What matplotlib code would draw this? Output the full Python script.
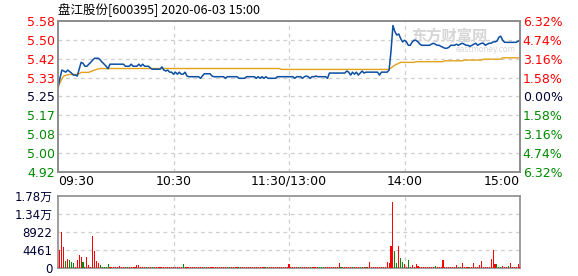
import matplotlib
matplotlib.use("Agg")
import matplotlib.pyplot as plt
import numpy as np

plt.rcParams['font.family'] = ['DejaVu Sans', 'Noto Sans CJK SC']

title = "盘江股份[600395] 2020-06-03 15:00"
prev_close = 5.25
pct_ticks = [6.32, 4.74, 3.16, 1.58, 0.00, -1.58, -3.16, -4.74, -6.32]
time_labels = ["09:30", "10:30", "11:30/13:00", "14:00", "15:00"]
time_ticks = [0, 60, 120, 180, 240]
vol_ticks = [0, 4461, 8922, 13383, 17844]
vol_labels = ["0", "4461", "8922", "1.34万", "1.78万"]

price = [
    5.290, 5.330, 5.366, 5.362, 5.357, 5.366, 5.360, 5.353, 5.344, 5.344,
    5.340, 5.370, 5.400, 5.396, 5.383, 5.383, 5.392, 5.400, 5.410, 5.418,
    5.418, 5.418, 5.410, 5.400, 5.392, 5.383, 5.372, 5.392, 5.392, 5.392,
    5.392, 5.392, 5.392, 5.392, 5.392, 5.383, 5.383, 5.383, 5.392, 5.383,
    5.383, 5.383, 5.392, 5.383, 5.392, 5.383, 5.383, 5.383, 5.375, 5.370,
    5.370, 5.370, 5.370, 5.370, 5.380, 5.366, 5.362, 5.366, 5.357, 5.357,
    5.348, 5.357, 5.348, 5.357, 5.348, 5.348, 5.357, 5.340, 5.337, 5.337,
    5.337, 5.337, 5.337, 5.337, 5.330, 5.340, 5.350, 5.350, 5.350, 5.350,
    5.340, 5.337, 5.337, 5.337, 5.337, 5.337, 5.337, 5.330, 5.337, 5.337,
    5.337, 5.337, 5.337, 5.337, 5.330, 5.330, 5.330, 5.330, 5.337, 5.337,
    5.337, 5.337, 5.337, 5.330, 5.337, 5.330, 5.337, 5.330, 5.337, 5.330,
    5.330, 5.330, 5.330, 5.330, 5.337, 5.337, 5.337, 5.337, 5.337, 5.337,
    5.337, 5.337, 5.337, 5.330, 5.337, 5.337, 5.337, 5.330, 5.337, 5.340,
    5.337, 5.330, 5.337, 5.337, 5.340, 5.337, 5.337, 5.337, 5.337, 5.337,
    5.330, 5.353, 5.353, 5.353, 5.353, 5.353, 5.353, 5.353, 5.353, 5.353,
    5.362, 5.357, 5.344, 5.357, 5.348, 5.357, 5.344, 5.353, 5.362, 5.353,
    5.357, 5.357, 5.357, 5.357, 5.357, 5.357, 5.357, 5.344, 5.357, 5.357,
    5.357, 5.357, 5.366, 5.450, 5.562, 5.535, 5.520, 5.525, 5.505, 5.490,
    5.497, 5.490, 5.475, 5.475, 5.490, 5.497, 5.497, 5.490, 5.480, 5.475,
    5.475, 5.475, 5.475, 5.475, 5.480, 5.484, 5.480, 5.475, 5.475, 5.470,
    5.466, 5.462, 5.462, 5.466, 5.475, 5.475, 5.475, 5.480, 5.475, 5.480,
    5.484, 5.480, 5.475, 5.475, 5.470, 5.475, 5.480, 5.484, 5.475, 5.480,
    5.484, 5.484, 5.475, 5.480, 5.484, 5.484, 5.490, 5.490, 5.493, 5.510,
    5.515, 5.497, 5.488, 5.488, 5.488, 5.488, 5.488, 5.488, 5.488, 5.493,
    5.497,
]

avg_price = ([5.290, 5.310, 5.327, 5.340, 5.343, 5.345] + [5.347] * 5 + [5.350]
             + [5.356] * 5 + [5.360, 5.363, 5.366, 5.369, 5.371]
             + [5.373] * 94 + [5.369] * 56
             + [5.370, 5.375, 5.382, 5.388, 5.392, 5.396]
             + [5.400] * 8 + [5.403] * 15 + [5.407] * 10 + [5.410] * 10
             + [5.414] * 10 + [5.420] * 10)

volume = ([0, 4420, 9000, 5300, 1770, 2250, 1930, 1450, 1130, 240,
           1930, 3130, 2650, 1450, 240, 2650, 720, 240, 7950, 4100,
           1690, 1200, 720, 240, 240, 240, 960, 240, 240, 240,
           240, 240, 480] + [240] * 8 + [720, 720] + [240] * 22 + [960]
          + [240] * 54 + [960] + [240] * 25 + [1200] + [240] * 15 + [1450]
          + [240] * 8
          + [1450, 1130, 5540, 16400, 4100, 1200, 5540, 2400, 1530, 960,
             240, 1930, 240, 720, 240, 960, 480]
          + [240] * 8 + [480, 240, 240, 240, 1930] + [240] * 6 + [720, 240, 240,
             1200] + [240] * 5 + [1200, 240, 240, 720, 1690, 240, 240, 240, 240,
             2170, 4580, 960, 960, 240, 240, 480, 240, 240, 480, 1200, 240,
             240, 240, 960, 240])

direction = ("rrrrgrgggr" "rrrgrrrrrr" "rrgggggrrr" "rrrrrrgrrr" "rrrrrrgrrg"
             "rrrrrrrrrr" "rrrrrgrrrr" "rrrrrrgrrr" "rrrrrrrrrg" "rrrrgrrrrr"
             "rrrrrrrrgg" "rrrrrrrrrr" "rrrrrgrrrr" "rgrrrrgggr" "rrrrrrrgrr"
             "rrrgrrrgrr" "grrrrrrrrr" "rrrrrggrgg" "rrgrrrrrrr" "rrrrrrgrrr"
             "rrrrrrrrgr" "rrrrgrrrrr" "rrrrrrrrgg" "grrrgrrrrr" "r")

n = len(price)
assert len(avg_price) == n and len(volume) == n and len(direction) == n
minutes = np.arange(n)

W, H = 578, 276
fig = plt.figure(figsize=(W / 100, H / 100), dpi=100)

frame_c = "#8c8c8c"
grid_c = "#cfcfcf"
red = "#ff0000"
green = "#008a00"
dark = "#000033"

ax = fig.add_axes([58 / W, (H - 172) / H, 462 / W, 151 / H])
axv = fig.add_axes([58 / W, (H - 268) / H, 462 / W, 72 / H])

lo = prev_close * (1 - 0.0632)
hi = prev_close * (1 + 0.0632)
price_ticks = [prev_close * (1 + p / 100) for p in pct_ticks]

ax.set_xlim(0, 240)
ax.set_ylim(lo, hi)
for t in price_ticks[1:-1]:
    ax.axhline(t, color=grid_c, lw=0.9, ls=(0, (3, 3)), zorder=1)
for t in time_ticks[1:-1]:
    ax.axvline(t, color=grid_c, lw=0.9, ls=(0, (3, 3)), zorder=1)

ax.text(0.93, 0.90, "东方财富网", transform=ax.transAxes, ha="right", va="center",
        fontsize=11, fontweight="bold", color="#d6d6d6",
        family=["Noto Sans CJK SC", "DejaVu Sans"], zorder=2)
ax.text(0.99, 0.81, "eastmoney.com", transform=ax.transAxes, ha="right", va="center",
        fontsize=5.5, color="#d6d6d6", zorder=2)

ax.plot(minutes, avg_price, color="#e3a21a", lw=1.0, zorder=3)
ax.plot(minutes, price, color="#0b4ea2", lw=1.1, zorder=4)

ax.set_yticks(price_ticks)
ax.set_yticklabels([f"{v:.2f}" for v in price_ticks], fontsize=9)
for lab, p in zip(ax.get_yticklabels(), pct_ticks):
    lab.set_color(red if p > 0 else (dark if p == 0 else green))
ax.set_xticks(time_ticks)
ax.set_xticklabels(time_labels, fontsize=9)
xl = ax.get_xticklabels()
xl[0].set_ha("left")
xl[-1].set_ha("right")
ax.tick_params(axis="both", length=0, pad=2)

axr = ax.twinx()
axr.set_ylim(lo, hi)
axr.set_yticks(price_ticks)
axr.set_yticklabels([f"{abs(p):.2f}%" for p in pct_ticks], fontsize=9)
for lab, p in zip(axr.get_yticklabels(), pct_ticks):
    lab.set_color(red if p > 0 else (dark if p == 0 else green))
axr.tick_params(axis="y", length=0, pad=2)

for a in (ax, axr, axv):
    for s in a.spines.values():
        s.set_color(frame_c)
        s.set_linewidth(1.2)

colors = [red if d == "r" else green for d in direction]
axv.bar(minutes, volume, width=0.55, color=colors, zorder=3, antialiased=False)
axv.set_xlim(0, 240)
axv.set_ylim(0, vol_ticks[-1])
for t in vol_ticks[1:-1]:
    axv.axhline(t, color=grid_c, lw=0.9, ls=(0, (3, 3)), zorder=1)
for t in time_ticks[1:-1]:
    axv.axvline(t, color=grid_c, lw=0.9, ls=(0, (3, 3)), zorder=1)
axv.set_xticks([])
axv.set_yticks(vol_ticks)
axv.set_yticklabels(vol_labels, fontsize=8.5, color=dark,
                    family=["DejaVu Sans", "Noto Sans CJK SC"])
axv.tick_params(axis="y", length=0, pad=4)

fig.text(58 / W, 1 - 10 / H, title, ha="left", va="center", fontsize=9,
         color="#000000", family=["Noto Sans CJK SC", "DejaVu Sans"])

fig.savefig("out.png", dpi=100)
